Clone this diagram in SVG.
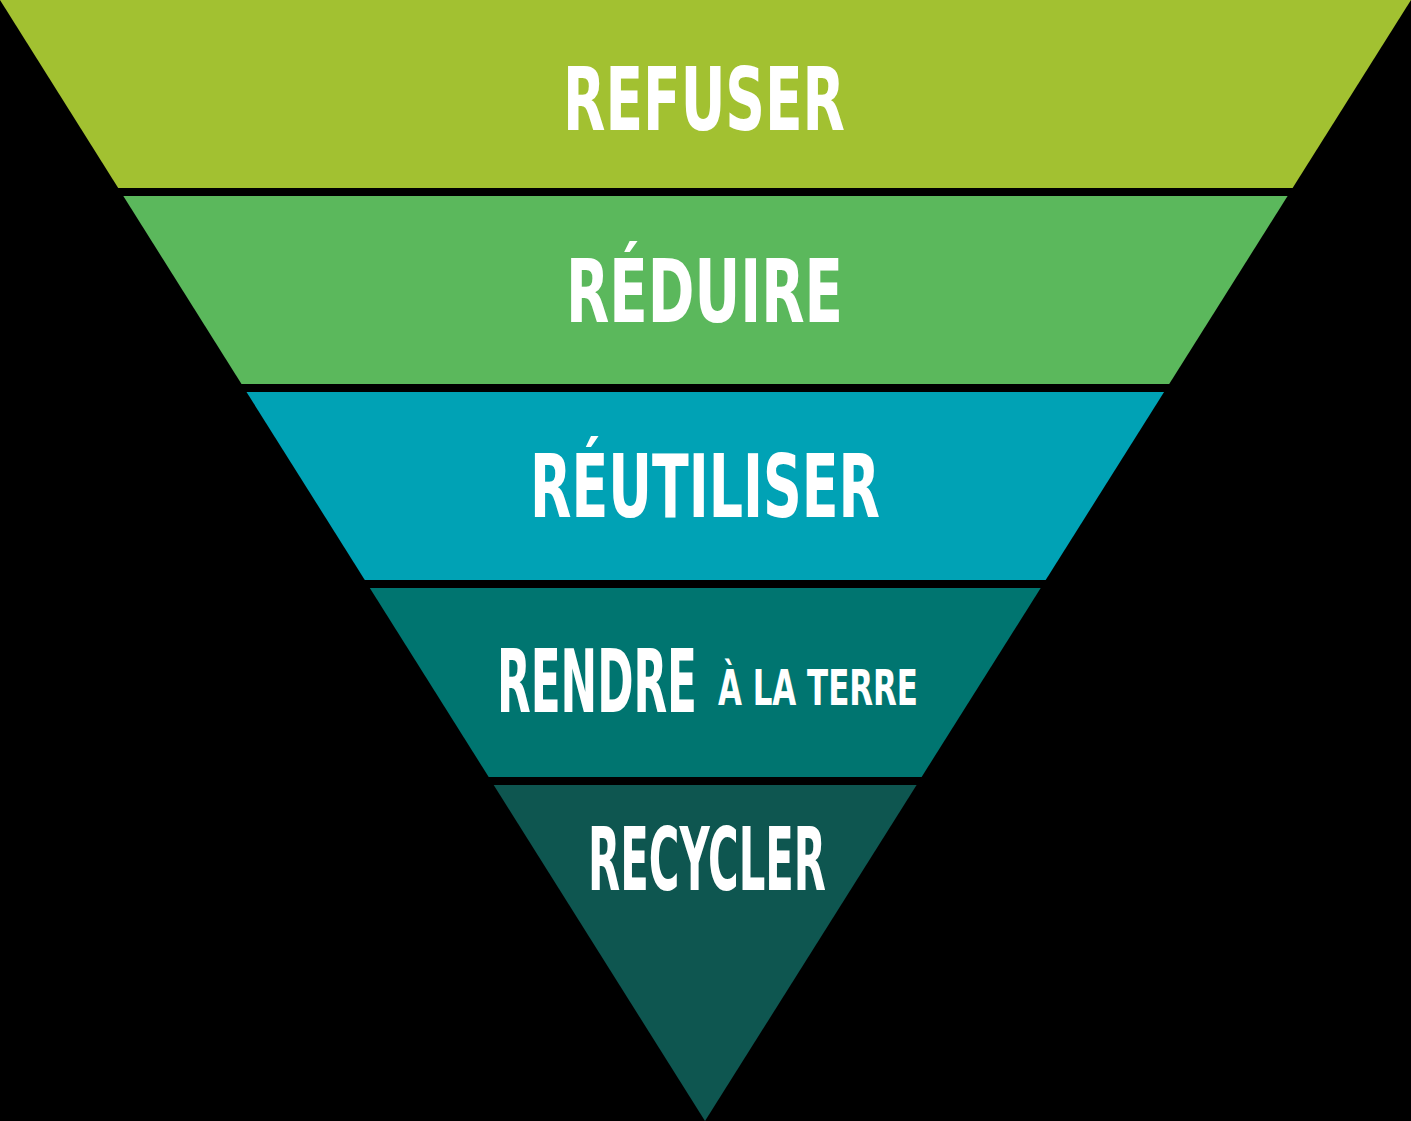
<svg xmlns="http://www.w3.org/2000/svg" width="1411" height="1121" viewBox="0 0 1411 1121">
<style>
text{font-family:"DejaVu Sans Condensed","DejaVu Sans",sans-serif;font-weight:bold;fill:#fff;font-size:88px}
.s{font-size:50px}
</style>
<rect width="1411" height="1121" fill="#000"/>
<g id="refuser"><polygon points="0,0 1411,0 1292.6,188 118.2,188" fill="#a2c131"/>
<text x="563" y="130" textLength="282" lengthAdjust="spacingAndGlyphs">REFUSER</text></g>
<g id="reduire"><polygon points="123.3,196 1287.6,196 1169.2,384 241.5,384" fill="#5bb85c"/>
<text x="566" y="322" textLength="277" lengthAdjust="spacingAndGlyphs">RÉDUIRE</text></g>
<g id="reutiliser"><polygon points="246.5,392 1164.1,392 1045.7,580 364.8,580" fill="#00a2b5"/>
<text x="530" y="517" textLength="350" lengthAdjust="spacingAndGlyphs">RÉUTILISER</text></g>
<g id="rendre"><polygon points="369.8,588 1040.7,588 921.6,777 488.7,777" fill="#007570"/>
<text x="497" y="712" textLength="200" lengthAdjust="spacingAndGlyphs">RENDRE</text>
<text class="s" x="718" y="705" textLength="200" lengthAdjust="spacingAndGlyphs">À LA TERRE</text></g>
<g id="recycler"><polygon points="493.7,785 916.6,785 705,1121" fill="#0e5650"/>
<text x="588" y="890" textLength="238" lengthAdjust="spacingAndGlyphs">RECYCLER</text></g>
<g id="connectors"/>
</svg>
